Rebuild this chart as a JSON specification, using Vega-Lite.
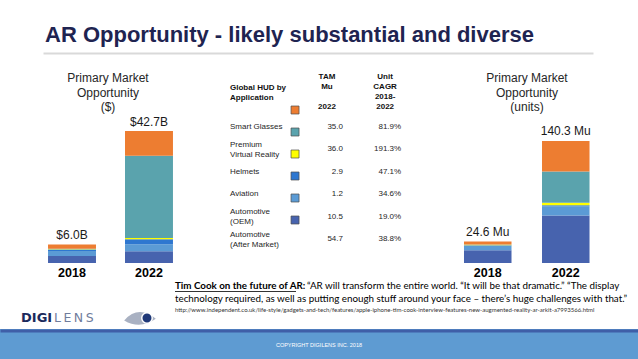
{
  "$schema": "https://vega.github.io/schema/vega-lite/v6.json",
  "padding": 0,
  "background": "#ffffff",
  "spacing": 0,
  "config": {"view": {"stroke": null}, "font": "Liberation Sans", "text": {"font": "Liberation Sans"}},
  "datasets": {
    "bars": [
      {"chart": "usd", "year": "2018", "app": "Automotive (After Market)", "value": 2.3, "rank": 1},
      {"chart": "usd", "year": "2018", "app": "Automotive (OEM)", "value": 1.6, "rank": 2},
      {"chart": "usd", "year": "2018", "app": "Aviation", "value": 0.3, "rank": 3},
      {"chart": "usd", "year": "2018", "app": "Helmets", "value": 0.2, "rank": 4},
      {"chart": "usd", "year": "2018", "app": "Premium Virtual Reality", "value": 0.2, "rank": 5},
      {"chart": "usd", "year": "2018", "app": "Smart Glasses", "value": 1.4, "rank": 6},
      {"chart": "usd", "year": "2022", "app": "Automotive (After Market)", "value": 3.8, "rank": 1},
      {"chart": "usd", "year": "2022", "app": "Automotive (OEM)", "value": 2.3, "rank": 2},
      {"chart": "usd", "year": "2022", "app": "Aviation", "value": 1.6, "rank": 3},
      {"chart": "usd", "year": "2022", "app": "Helmets", "value": 0.4, "rank": 4},
      {"chart": "usd", "year": "2022", "app": "Premium Virtual Reality", "value": 26.6, "rank": 5},
      {"chart": "usd", "year": "2022", "app": "Smart Glasses", "value": 8.0, "rank": 6},
      {"chart": "units", "year": "2018", "app": "Automotive (After Market)", "value": 14.7, "rank": 1},
      {"chart": "units", "year": "2018", "app": "Automotive (OEM)", "value": 5.2, "rank": 2},
      {"chart": "units", "year": "2018", "app": "Aviation", "value": 0.4, "rank": 3},
      {"chart": "units", "year": "2018", "app": "Helmets", "value": 0.6, "rank": 4},
      {"chart": "units", "year": "2018", "app": "Premium Virtual Reality", "value": 0.5, "rank": 5},
      {"chart": "units", "year": "2018", "app": "Smart Glasses", "value": 3.2, "rank": 6},
      {"chart": "units", "year": "2022", "app": "Automotive (After Market)", "value": 54.7, "rank": 1},
      {"chart": "units", "year": "2022", "app": "Automotive (OEM)", "value": 10.5, "rank": 2},
      {"chart": "units", "year": "2022", "app": "Aviation", "value": 1.2, "rank": 3},
      {"chart": "units", "year": "2022", "app": "Helmets", "value": 2.9, "rank": 4},
      {"chart": "units", "year": "2022", "app": "Premium Virtual Reality", "value": 36.0, "rank": 5},
      {"chart": "units", "year": "2022", "app": "Smart Glasses", "value": 35.0, "rank": 6}
    ],
    "totals": [
      {"chart": "usd", "year": "2018", "total": 6.0, "label": "$6.0B"},
      {"chart": "usd", "year": "2022", "total": 42.7, "label": "$42.7B"},
      {"chart": "units", "year": "2018", "total": 24.6, "label": "24.6 Mu"},
      {"chart": "units", "year": "2022", "total": 140.3, "label": "140.3 Mu"}
    ],
    "apps": [
      {"app": "Smart Glasses", "name": "Smart Glasses", "tam": 35.0, "cagr": 0.819},
      {"app": "Premium Virtual Reality", "name": "Premium\nVirtual Reality", "tam": 36.0, "cagr": 1.913},
      {"app": "Helmets", "name": "Helmets", "tam": 2.9, "cagr": 0.471},
      {"app": "Aviation", "name": "Aviation", "tam": 1.2, "cagr": 0.346},
      {"app": "Automotive (OEM)", "name": "Automotive\n(OEM)", "tam": 10.5, "cagr": 0.19},
      {"app": "Automotive (After Market)", "name": "Automotive\n(After Market)", "tam": 54.7, "cagr": 0.388}
    ],
    "headers": [
      {"col": "name", "hline": "2", "text": "Global HUD by"},
      {"col": "name", "hline": "3", "text": "Application"},
      {"col": "tam", "hline": "1", "text": "TAM"},
      {"col": "tam", "hline": "2", "text": "Mu"},
      {"col": "tam", "hline": "4", "text": "2022"},
      {"col": "cagr", "hline": "1", "text": "Unit"},
      {"col": "cagr", "hline": "2", "text": "CAGR"},
      {"col": "cagr", "hline": "3", "text": "2018-"},
      {"col": "cagr", "hline": "4", "text": "2022"}
    ],
    "quote": [
      {"line": "1", "col": "start", "kind": "lead", "text": "Tim Cook on the future of AR:"},
      {"line": "1", "col": "after", "kind": "body", "text": "“AR will transform the entire world. “It will be that dramatic.” “The display"},
      {"line": "2", "col": "start", "kind": "body", "text": "technology required, as well as putting enough stuff around your face – there’s huge challenges with that.”"},
      {"line": "3", "col": "start", "kind": "url", "text": "http://www.independent.co.uk/life-style/gadgets-and-tech/features/apple-iphone-tim-cook-interview-features-new-augmented-reality-ar-arkit-a7993566.html"}
    ],
    "logo": [
      {"part": "DIGI"},
      {"part": "L\u2009E\u2009N\u2009S"}
    ]
  },
  "vconcat": [
    {
      "width": 638,
      "height": 56,
      "data": {"values": []},
      "mark": {"type": "point"},
      "encoding": {
        "x": {"field": "u", "type": "quantitative", "scale": {"domain": [0, 1], "range": [43, 593]},
              "axis": {"orient": "bottom", "offset": -3, "domain": true, "domainColor": "#d9d9d9", "domainWidth": 2, "ticks": false, "labels": false, "grid": false, "title": null}}
      },
      "title": {"text": "AR Opportunity - likely substantial and diverse", "orient": "top", "anchor": "start", "frame": "group", "offset": 0, "baseline": "top", "dx": 45, "dy": 47.4, "fontSize": 22, "fontWeight": "bold", "color": "#1f2451", "font": "Liberation Sans"}
    },
    {
      "spacing": 0,
      "bounds": "flush",
      "hconcat": [
        {
          "width": 191,
          "height": 224,
          "title": {"text": ["Primary Market", "Opportunity", "($)"], "orient": "top", "anchor": "middle", "frame": "group", "offset": 0, "baseline": "top", "dx": 12.5, "dy": 58.5, "lineHeight": 14.7, "fontSize": 12, "fontWeight": "normal", "color": "#262626", "font": "Liberation Sans"},
          "layer": [
            {
              "data": {"name": "bars"},
              "transform": [{"filter": "datum.chart === 'usd'"}],
              "mark": {"type": "bar"},
              "encoding": {
                "x": {"field": "year", "type": "nominal", "scale": {"type": "band", "domain": ["2018", "2022"], "paddingInner": 0.377, "paddingOuter": 0.429, "align": 0.727},
                      "axis": {"title": null, "offset": -17, "domain": false, "ticks": false, "labelAngle": 0, "labelFontSize": 12.5, "labelFontWeight": "bold", "labelColor": "#000000", "labelPadding": 3.5, "labelFont": "Liberation Sans"}},
                "y": {"field": "value", "type": "quantitative", "stack": "zero", "scale": {"domain": [0, 66.96], "range": [207, 0], "nice": false, "zero": true}, "axis": null},
                "color": {"field": "app", "type": "nominal", "legend": null,
                          "scale": {"domain": ["Smart Glasses", "Premium Virtual Reality", "Helmets", "Aviation", "Automotive (OEM)", "Automotive (After Market)"],
                                    "range": ["#ED7D31", "#5AA3AD", "#FFFF00", "#2E77D0", "#5B9BD5", "#4763AE"]}},
                "order": {"field": "rank", "type": "quantitative"}
              }
            },
            {
              "data": {"name": "totals"},
              "transform": [{"filter": "datum.chart === 'usd'"}],
              "mark": {"type": "text", "baseline": "alphabetic", "dy": -5, "fontSize": 12, "color": "#1a1a1a"},
              "encoding": {
                "x": {"field": "year", "type": "nominal"},
                "y": {"field": "total", "type": "quantitative"},
                "text": {"field": "label"}
              }
            }
          ]
        },
        {
          "width": 255,
          "height": 224,
          "resolve": {"scale": {"x": "independent", "y": "independent"}},
          "layer": [
            {
              "data": {"name": "apps"},
              "transform": [{"filter": "indexof(datum.name, '\\n') < 0"}],
              "mark": {"type": "text", "align": "left", "baseline": "middle", "fontSize": 8, "color": "#262626"},
              "encoding": {
                "x": {"datum": "name", "type": "nominal", "scale": {"type": "point", "domain": ["name"], "align": 0.153}, "axis": null},
                "y": {"field": "app", "type": "nominal", "scale": {"type": "point", "domain": ["Smart Glasses", "Premium Virtual Reality", "Helmets", "Aviation", "Automotive (OEM)", "Automotive (After Market)"], "range": [71, 183], "padding": 0}, "axis": null},
                "text": {"field": "name"}
              }
            },
            {
              "data": {"name": "apps"},
              "transform": [{"filter": "indexof(datum.name, '\\n') >= 0"}],
              "mark": {"type": "text", "align": "left", "baseline": "top", "dy": -8.4, "fontSize": 8, "lineBreak": "\n", "lineHeight": 10, "color": "#262626"},
              "encoding": {
                "x": {"datum": "name", "type": "nominal", "scale": {"type": "point", "domain": ["name"], "align": 0.153}, "axis": null},
                "y": {"field": "app", "type": "nominal", "scale": {"type": "point", "domain": ["Smart Glasses", "Premium Virtual Reality", "Helmets", "Aviation", "Automotive (OEM)", "Automotive (After Market)"], "range": [71, 183], "padding": 0}, "axis": null},
                "text": {"field": "name"}
              }
            },
            {
              "data": {"name": "apps"},
              "mark": {"type": "text", "align": "right", "baseline": "middle", "fontSize": 8, "color": "#262626"},
              "encoding": {
                "x": {"datum": "tam", "type": "nominal", "scale": {"type": "point", "domain": ["tam"], "align": 0.596}, "axis": null},
                "y": {"field": "app", "type": "nominal", "scale": {"type": "point", "domain": ["Smart Glasses", "Premium Virtual Reality", "Helmets", "Aviation", "Automotive (OEM)", "Automotive (After Market)"], "range": [71, 183], "padding": 0}, "axis": null},
                "text": {"field": "tam", "type": "quantitative", "format": ".1f"}
              }
            },
            {
              "data": {"name": "apps"},
              "mark": {"type": "text", "align": "right", "baseline": "middle", "fontSize": 8, "color": "#262626"},
              "encoding": {
                "x": {"datum": "cagr", "type": "nominal", "scale": {"type": "point", "domain": ["cagr"], "align": 0.824}, "axis": null},
                "y": {"field": "app", "type": "nominal", "scale": {"type": "point", "domain": ["Smart Glasses", "Premium Virtual Reality", "Helmets", "Aviation", "Automotive (OEM)", "Automotive (After Market)"], "range": [71, 183], "padding": 0}, "axis": null},
                "text": {"field": "cagr", "type": "quantitative", "format": ".1%"}
              }
            },
            {
              "data": {"name": "apps"},
              "mark": {"type": "square", "size": 64, "filled": true, "opacity": 1, "stroke": "#4d4d4d", "strokeWidth": 0.7},
              "encoding": {
                "x": {"datum": "swatch", "type": "nominal", "scale": {"type": "point", "domain": ["swatch"], "align": 0.408}, "axis": null},
                "y": {"field": "app", "type": "nominal", "scale": {"type": "point", "domain": ["Smart Glasses", "Premium Virtual Reality", "Helmets", "Aviation", "Automotive (OEM)", "Automotive (After Market)"], "range": [54, 164], "padding": 0}, "axis": null},
                "color": {"field": "app", "type": "nominal", "legend": null,
                          "scale": {"domain": ["Smart Glasses", "Premium Virtual Reality", "Helmets", "Aviation", "Automotive (OEM)", "Automotive (After Market)"],
                                    "range": ["#ED7D31", "#5AA3AD", "#FFFF00", "#2E77D0", "#5B9BD5", "#4A5CB0"]}}
              }
            },
            {
              "data": {"name": "headers"},
              "transform": [{"filter": "datum.col === 'name'"}],
              "mark": {"type": "text", "align": "left", "baseline": "middle", "fontSize": 8, "fontWeight": "bold", "color": "#111111", "dy": 1},
              "encoding": {
                "x": {"datum": "name", "type": "nominal", "scale": {"type": "point", "domain": ["name"], "align": 0.153}, "axis": null},
                "y": {"field": "hline", "type": "nominal", "scale": {"type": "point", "domain": ["1", "2", "3", "4"], "range": [21, 51], "padding": 0}, "axis": null},
                "text": {"field": "text"}
              }
            },
            {
              "data": {"name": "headers"},
              "transform": [{"filter": "datum.col === 'tam'"}],
              "mark": {"type": "text", "align": "center", "baseline": "middle", "fontSize": 8, "fontWeight": "bold", "color": "#111111", "dx": -16},
              "encoding": {
                "x": {"datum": "tam", "type": "nominal", "scale": {"type": "point", "domain": ["tam"], "align": 0.596}, "axis": null},
                "y": {"field": "hline", "type": "nominal", "scale": {"type": "point", "domain": ["1", "2", "3", "4"], "range": [21, 51], "padding": 0}, "axis": null},
                "text": {"field": "text"}
              }
            },
            {
              "data": {"name": "headers"},
              "transform": [{"filter": "datum.col === 'cagr'"}],
              "mark": {"type": "text", "align": "center", "baseline": "middle", "fontSize": 8, "fontWeight": "bold", "color": "#111111", "dx": -16},
              "encoding": {
                "x": {"datum": "cagr", "type": "nominal", "scale": {"type": "point", "domain": ["cagr"], "align": 0.824}, "axis": null},
                "y": {"field": "hline", "type": "nominal", "scale": {"type": "point", "domain": ["1", "2", "3", "4"], "range": [21, 51], "padding": 0}, "axis": null},
                "text": {"field": "text"}
              }
            }
          ]
        },
        {
          "width": 192,
          "height": 224,
          "title": {"text": ["Primary Market", "Opportunity", "(units)"], "orient": "top", "anchor": "middle", "frame": "group", "offset": 0, "baseline": "top", "dx": -15, "dy": 58.5, "lineHeight": 14.7, "fontSize": 12, "fontWeight": "normal", "color": "#262626", "font": "Liberation Sans"},
          "layer": [
            {
              "data": {"name": "bars"},
              "transform": [{"filter": "datum.chart === 'units'"}],
              "mark": {"type": "bar"},
              "encoding": {
                "x": {"field": "year", "type": "nominal", "scale": {"type": "band", "domain": ["2018", "2022"], "paddingInner": 0.391, "paddingOuter": 0.426, "align": 0.2707},
                      "axis": {"title": null, "offset": -17, "domain": false, "ticks": false, "labelAngle": 0, "labelFontSize": 12.5, "labelFontWeight": "bold", "labelColor": "#000000", "labelPadding": 3.5, "labelFont": "Liberation Sans"}},
                "y": {"field": "value", "type": "quantitative", "stack": "zero", "scale": {"domain": [0, 238.04], "range": [207, 0], "nice": false, "zero": true}, "axis": null},
                "color": {"field": "app", "type": "nominal", "legend": null,
                          "scale": {"domain": ["Smart Glasses", "Premium Virtual Reality", "Helmets", "Aviation", "Automotive (OEM)", "Automotive (After Market)"],
                                    "range": ["#ED7D31", "#5AA3AD", "#FFFF00", "#2E77D0", "#5B9BD5", "#4763AE"]}},
                "order": {"field": "rank", "type": "quantitative"}
              }
            },
            {
              "data": {"name": "totals"},
              "transform": [{"filter": "datum.chart === 'units'"}],
              "mark": {"type": "text", "baseline": "alphabetic", "dy": -5.5, "fontSize": 12, "color": "#1a1a1a"},
              "encoding": {
                "x": {"field": "year", "type": "nominal"},
                "y": {"field": "total", "type": "quantitative"},
                "text": {"field": "label"}
              }
            }
          ]
        }
      ]
    },
    {
      "spacing": 0,
      "bounds": "flush",
      "hconcat": [
        {
          "width": 175,
          "height": 49,
          "resolve": {"scale": {"x": "independent"}},
          "layer": [
            {
              "data": {"name": "logo"},
              "transform": [{"filter": "datum.part === 'DIGI'"}],
              "mark": {"type": "text", "align": "left", "baseline": "middle", "fontSize": 13, "fontWeight": "bold", "font": "DejaVu Sans", "color": "#1b2a5c"},
              "encoding": {
                "x": {"field": "part", "type": "nominal", "scale": {"type": "point", "domain": ["DIGI", "L\u2009E\u2009N\u2009S"], "range": [21, 54], "padding": 0}, "axis": null},
                "y": {"datum": "logo", "type": "nominal", "scale": {"type": "point", "domain": ["logo"], "align": 0.776}, "axis": null},
                "text": {"field": "part"}
              }
            },
            {
              "data": {"name": "logo"},
              "transform": [{"filter": "datum.part !== 'DIGI'"}],
              "mark": {"type": "text", "align": "left", "baseline": "middle", "fontSize": 12.5, "fontWeight": "normal", "font": "DejaVu Sans", "color": "#6f7c9c"},
              "encoding": {
                "x": {"field": "part", "type": "nominal", "scale": {"type": "point", "domain": ["DIGI", "L\u2009E\u2009N\u2009S"], "range": [21, 54], "padding": 0}, "axis": null},
                "y": {"datum": "logo", "type": "nominal"},
                "text": {"field": "part"}
              }
            },
            {
              "data": {"values": [{"part": "eye"}]},
              "mark": {"type": "point", "shape": "M-1,0.15 Q-0.1,-0.85 1,0.05 Q0,0.75 -1,0.15 Z", "size": 1000, "filled": true, "color": "#a9b1c2", "opacity": 1},
              "encoding": {
                "x": {"field": "part", "type": "nominal", "scale": {"type": "point", "domain": ["eye"], "align": 0.8}, "axis": null},
                "y": {"datum": "logo", "type": "nominal"}
              }
            },
            {
              "data": {"values": [{"part": "iris"}]},
              "mark": {"type": "circle", "size": 110, "filled": true, "color": "#1f3878", "opacity": 1, "stroke": "#ffffff", "strokeWidth": 1.5},
              "encoding": {
                "x": {"field": "part", "type": "nominal", "scale": {"type": "point", "domain": ["iris"], "align": 0.84}, "axis": null},
                "y": {"datum": "logo", "type": "nominal"}
              }
            }
          ]
        },
        {
          "width": 463,
          "height": 49,
          "data": {"name": "quote"},
          "layer": [
            {
              "transform": [{"filter": "datum.kind === 'lead'"}],
              "mark": {"type": "text", "align": "left", "baseline": "middle", "fontSize": 9.8, "fontWeight": "bold", "font": "Lato", "color": "#000000"},
              "encoding": {
                "x": {"field": "col", "type": "nominal", "scale": {"type": "point", "domain": ["start", "after"], "range": [0, 132], "padding": 0}, "axis": null},
                "y": {"field": "line", "type": "nominal", "scale": {"type": "point", "domain": ["1", "2", "3"], "range": [6, 32], "padding": 0}, "axis": null},
                "text": {"field": "text"}
              }
            },
            {
              "transform": [{"filter": "datum.kind === 'lead'"}],
              "mark": {"type": "rule", "color": "#000000", "strokeWidth": 0.8, "yOffset": 5.5, "x2Offset": -11},
              "encoding": {
                "x": {"field": "col", "type": "nominal"},
                "x2": {"datum": "after"},
                "y": {"field": "line", "type": "nominal"}
              }
            },
            {
              "transform": [{"filter": "datum.kind === 'body'"}],
              "mark": {"type": "text", "align": "left", "baseline": "middle", "fontSize": 9.8, "font": "Lato", "color": "#000000"},
              "encoding": {
                "x": {"field": "col", "type": "nominal"},
                "y": {"field": "line", "type": "nominal"},
                "text": {"field": "text"}
              }
            },
            {
              "transform": [{"filter": "datum.kind === 'url'"}],
              "mark": {"type": "text", "align": "left", "baseline": "middle", "fontSize": 6, "font": "Lato", "color": "#333333", "dy": -2},
              "encoding": {
                "x": {"field": "col", "type": "nominal"},
                "y": {"field": "line", "type": "nominal"},
                "text": {"field": "text"}
              }
            }
          ]
        }
      ]
    },
    {
      "width": 638,
      "height": 30,
      "view": {"fill": "#5E9BD2", "stroke": null},
      "data": {"values": []},
      "mark": {"type": "point"},
      "encoding": {
        "x": {"field": "u", "type": "quantitative", "scale": {"domain": [0, 1]},
              "axis": {"orient": "top", "offset": -1.5, "domain": true, "domainColor": "#3F5FA8", "domainWidth": 3, "ticks": false, "labels": false, "grid": false, "title": null}}
      },
      "title": {"text": "COPYRIGHT DIGILENS INC. 2018", "orient": "top", "anchor": "middle", "frame": "group", "offset": 0, "baseline": "top", "dy": 19.5, "fontSize": 5.5, "fontWeight": "normal", "color": "#ffffff", "font": "Liberation Sans"}
    }
  ]
}
